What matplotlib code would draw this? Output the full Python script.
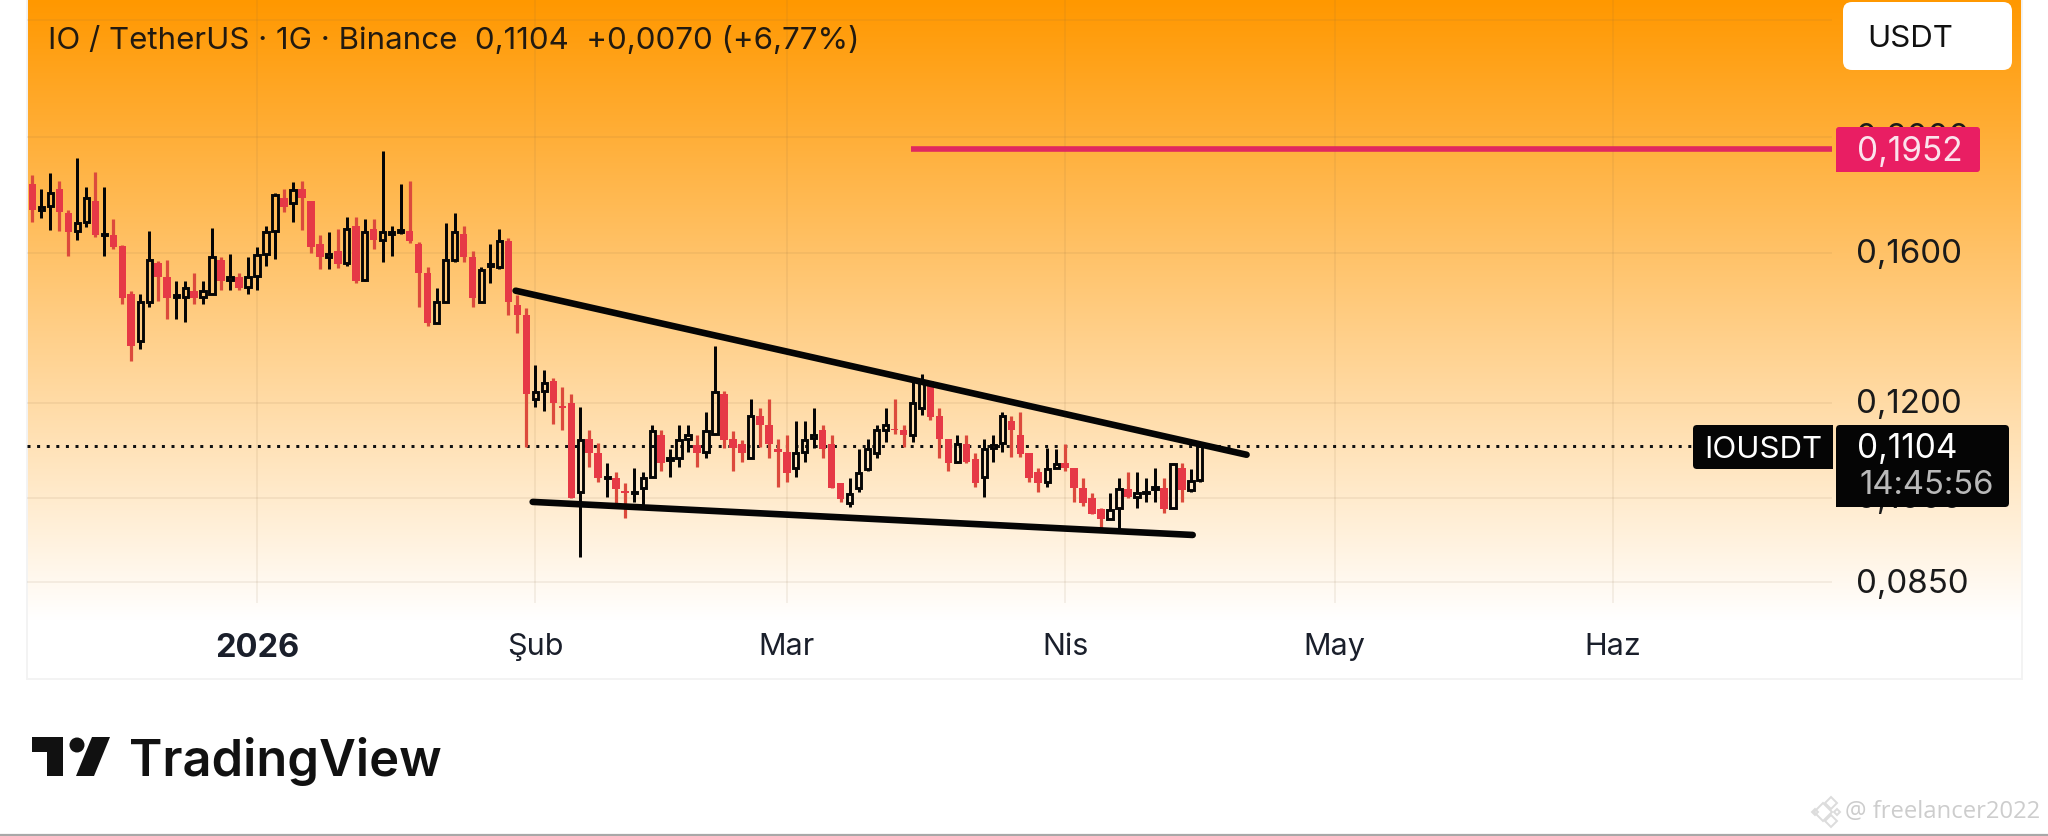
import numpy as np
import matplotlib
matplotlib.use("Agg")
import matplotlib.pyplot as plt
from matplotlib.patches import FancyBboxPatch, Polygon, Circle, Rectangle
from matplotlib.transforms import ScaledTranslation

W, H = 2048, 836
plt.rcParams['font.family'] = ['Inter', 'DejaVu Sans']

# ---- data ----
first_day = -25   # days relative to 1 Jan 2026
opens = [.1827,.1738,.1751,.1808,.1729,.1669,.1697,.1768,.1655,.1656,.1620,.1478,.1350,.1457,.1569,.1527,.1469,.1469,.1487,.1469,
 .1479,.1578,.1519,.1527,.1498,.1531,.1597,.1670,.1777,.1760,.1808,.1768,.1627,.1588,.1607,.1569,.1686,.1519,.1675,.1639,
 .1660,.1667,.1669,.1627,.1539,.1398,.1457,.1578,.1659,.1588,.1457,.1559,.1557,.1638,.1448,.1419,.1209,.1228,.1250,.1193,
 .1199,.1011,.1119,.1089,.1038,.1039,.1012,.1009,.1019,.1040,.1128,.1075,.1079,.1120,.1107,.1091,.1130,.1221,.1119,.1108,
 .1079,.1169,.1150,.1098,.1091,.1058,.1091,.1121,.1138,.1109,.1028,.0990,.1019,.1057,.1089,.1138,.1140,.1139,.1128,.1189,
 .1250,.1169,.1119,.1070,.1109,.1077,.1040,.1100,.1110,.1159,.1128,.1089,.1050,.1030,.1059,.1069,.1058,.1019,.0999,.0978,
 .0960,.0980,.1017,.1001,.1009,.1017,.1019,.0980,.1058,.1015,.1035]
highs = [.1858,.1808,.1867,.1837,.1738,.1919,.1817,.1868,.1817,.1708,.1625,.1486,.1478,.1669,.1576,.1577,.1517,.1517,.1539,.1517,
 .1677,.1588,.1596,.1539,.1588,.1617,.1686,.1796,.1808,.1835,.1837,.1768,.1656,.1667,.1675,.1715,.1715,.1708,.1708,.1947,
 .1686,.1827,.1837,.1635,.1557,.1497,.1696,.1727,.1686,.1607,.1556,.1627,.1675,.1648,.1476,.1439,.1289,.1278,.1258,.1238,
 .1220,.1190,.1138,.1110,.1069,.1050,.1028,.1058,.1050,.1150,.1138,.1098,.1150,.1150,.1128,.1178,.1337,.1228,.1137,.1118,
 .1208,.1189,.1208,.1119,.1128,.1159,.1159,.1189,.1150,.1128,.1028,.1038,.1098,.1119,.1150,.1189,.1208,.1150,.1250,.1268,
 .1250,.1189,.1119,.1128,.1128,.1089,.1119,.1128,.1178,.1169,.1178,.1089,.1058,.1100,.1097,.1109,.1058,.1039,.1009,.0980,
 .1009,.1038,.1050,.1050,.1039,.1058,.1039,.1069,.1069,.1056,.1109]
lows = [.1699,.1710,.1672,.1670,.1591,.1641,.1681,.1651,.1591,.1611,.1451,.1300,.1330,.1441,.1460,.1409,.1409,.1400,.1451,.1451,
 .1479,.1491,.1491,.1491,.1479,.1489,.1559,.1580,.1732,.1699,.1672,.1599,.1551,.1551,.1554,.1561,.1510,.1517,.1611,.1571,
 .1591,.1660,.1630,.1441,.1391,.1398,.1457,.1571,.1571,.1441,.1457,.1510,.1551,.1421,.1372,.1103,.1191,.1181,.1152,.1139,
 .0999,.0892,.1060,.1030,.1001,.0990,.0962,.0991,.0985,.1040,.1052,.1040,.1060,.1091,.1060,.1080,.1128,.1101,.1052,.1071,
 .1079,.1103,.1080,.1020,.1030,.1040,.1071,.1100,.1080,.1019,.0991,.0982,.1012,.1052,.1080,.1112,.1130,.1103,.1112,.1171,
 .1161,.1080,.1052,.1069,.1069,.1020,.1002,.1071,.1092,.1081,.1081,.1030,.1011,.1020,.1058,.1052,.0991,.0984,.0969,.0941,
 .0960,.0941,.0999,.0981,.0991,.0991,.0971,.0980,.0992,.1011,.1030]
closes = [.1738,.1747,.1796,.1730,.1667,.1694,.1777,.1656,.1660,.1617,.1467,.1337,.1457,.1577,.1529,.1467,.1476,.1496,.1467,.1486,
 .1587,.1517,.1527,.1497,.1527,.1595,.1667,.1787,.1747,.1806,.1779,.1617,.1588,.1596,.1567,.1675,.1516,.1667,.1639,.1667,
 .1667,.1671,.1638,.1539,.1398,.1455,.1577,.1667,.1588,.1467,.1549,.1566,.1638,.1457,.1421,.1220,.1226,.1247,.1199,.1189,
 .0999,.1117,.1089,.1038,.1040,.1017,.1009,.1012,.1038,.1137,.1069,.1079,.1118,.1127,.1089,.1137,.1226,.1118,.1100,.1089,
 .1169,.1150,.1109,.1091,.1048,.1089,.1118,.1128,.1098,.1019,.0998,.1008,.1048,.1098,.1138,.1149,.1138,.1128,.1199,.1250,
 .1167,.1119,.1069,.1109,.1070,.1028,.1097,.1107,.1169,.1138,.1088,.1039,.1028,.1057,.1067,.1058,.1019,.0990,.0969,.0960,
 .0977,.1017,.1001,.1009,.1012,.1020,.0979,.1067,.1015,.1032,.1104]

price_ticks = [0.25, 0.20, 0.16, 0.12, 0.10, 0.085]
price_labels = ['0,2500', '0,2000', '0,1600', '0,1200', '0,1000', '0,0850']
month_days = [0, 31, 59, 90, 120, 151]
month_labels = ['2026', 'Şub', 'Mar', 'Nis', 'May', 'Haz']

last_price = 0.1104
target_price = 0.1952
target_start_day = 72.8
upper_days, upper_prices = [28.8, 110.2], [0.1488, 0.1086]
lower_days, lower_prices = [30.7, 104.2], [0.0992, 0.0931]

# ---- layout helpers ----
fig = plt.figure(figsize=(W/100, H/100), dpi=100, facecolor='white')
def rect(x0, y0, x1, y1):
    return [x0/W, 1-y1/H, (x1-x0)/W, (y1-y0)/H]
px = 0.72  # points per pixel

# panel gradient
PANEL = (27, 0, 2022, 679)
bg = fig.add_axes(rect(*PANEL), zorder=0)
t = np.clip(np.linspace(0, 679, 680)/620, 0, 1)[:, None, None]
top = np.array([255, 152, 0])/255
grad = top*(1-t) + np.ones(3)*t
bg.imshow(grad, aspect='auto', extent=(0, 1, 0, 1))
bg.set_xticks([]); bg.set_yticks([])
for s in bg.spines.values():
    s.set_color('#F3F3F3'); s.set_linewidth(1.4)
bg.spines['top'].set_visible(False)

# ---- main chart ----
ax = fig.add_axes(rect(27, 0, 1832, 603), zorder=1)
ax.patch.set_alpha(0)
ax.set_yscale('log')
ax.set_xlim(-25.61, 175.39)
ax.set_ylim(0.0817, 0.2600)
for s in ax.spines.values():
    s.set_visible(False)
ax.yaxis.tick_right()
ax.set_yticks(price_ticks)
ax.set_yticklabels(price_labels)
ax.minorticks_off()
ax.set_xticks(month_days)
ax.set_xticklabels(month_labels)
ax.tick_params(axis='both', length=0)
ax.tick_params(axis='y', pad=24*px, labelsize=23.8, labelcolor='#1a1a1a')
ax.tick_params(axis='x', pad=30*px, labelsize=22, labelcolor='#1a1f2b')
ax.get_xticklabels()[0].set_fontweight('bold')
ax.get_xticklabels()[0].set_fontsize(23.5)
shift = ScaledTranslation(0, 1.5/100, fig.dpi_scale_trans)
for lab in ax.get_yticklabels():
    lab.set_transform(lab.get_transform() + shift)
ax.grid(True, color='#8a6a40', alpha=0.11, lw=1.6*px)
ax.set_axisbelow(True)

days = first_day + np.arange(len(opens))
o, h, l, c = map(np.array, (opens, highs, lows, closes))
up = c >= o
RED, REDW = '#E63946', '#DC4A3C'

ax.axhline(last_price, color='#111111', lw=3.0*px, ls=(0, (1.0, 2.2)), zorder=2)

ax.vlines(days[~up], l[~up], h[~up], color=REDW, lw=3.2*px, zorder=3)
ax.bar(days[~up], np.maximum(o-c, 0.0004)[~up], bottom=c[~up], width=0.84, color=RED, lw=0, zorder=4)

top_b, bot_b = np.maximum(o, c), np.minimum(o, c)
ax.vlines(days[up], top_b[up], h[up], color='#050505', lw=3.0*px, zorder=3)
ax.vlines(days[up], l[up], bot_b[up], color='#050505', lw=3.0*px, zorder=3)
ax.bar(days[up], (top_b-bot_b)[up], bottom=bot_b[up], width=0.58, facecolor='none',
       edgecolor='#050505', lw=2.9*px, zorder=4)

ax.plot(upper_days, upper_prices, color='#050505', lw=6.6*px, solid_capstyle='round', zorder=6)
ax.plot(lower_days, lower_prices, color='#050505', lw=6.6*px, solid_capstyle='round', zorder=6)
ax.hlines(target_price, target_start_day, 175.39, color='#E0285F', lw=5.6*px, zorder=5)

# ---- overlay (tags, header, logo) in pixel coordinates ----
ov = fig.add_axes([0, 0, 1, 1], zorder=2)
ov.set_xlim(0, W); ov.set_ylim(H, 0); ov.axis('off')

def box(x0, y0, x1, y1, color, r=5):
    ov.add_patch(FancyBboxPatch((x0+r, y0+r), x1-x0-2*r, y1-y0-2*r,
                 boxstyle=f'round,pad={r},rounding_size={r}', fc=color, ec='none'))

box(1843, 2, 2012, 70, '#FFFFFF', 9)
ov.text(1867, 39, 'USDT', fontsize=22.5, color='#111111', va='center', ha='left')

box(1836, 127, 1980, 172, '#E91E63', 3)
ov.add_patch(Rectangle((1836, 150), 10, 22, fc='#E91E63', ec='none'))
ov.text(1857, 152, '0,1952', fontsize=24, color='#FBE3EC', va='center', ha='left')

box(1693, 425, 1833, 469, '#050505', 4)
ov.add_patch(Rectangle((1820, 425), 13, 44, fc='#050505', ec='none'))
ov.text(1704, 450, 'IOUSDT', fontsize=22.5, color='#FFFFFF', va='center', ha='left')

box(1836, 425, 2009, 507, '#050505', 4)
ov.add_patch(Rectangle((1836, 490), 12, 17, fc='#050505', ec='none'))
ov.text(1857, 449, '0,1104', fontsize=24, color='#FFFFFF', va='center', ha='left')
ov.text(1859, 486, '14:45:56', fontsize=23.6, color='#B9B9B9', va='center', ha='left')

ov.text(48, 41, 'IO / TetherUS · 1G · Binance  0,1104  +0,0070 (+6,77%)', fontsize=22.5,
        color='#221a10', va='center', ha='left')

# TradingView logo
ov.add_patch(Polygon([(32, 737), (63, 737), (63, 776), (47, 776), (47, 752), (32, 752)], fc='#111111', ec='none'))
ov.add_patch(Circle((77, 745), 7.5, fc='#111111', ec='none'))
ov.add_patch(Polygon([(110, 737), (94, 776), (76, 776), (92, 737)], fc='#111111', ec='none'))
ov.text(129, 776, 'TradingView', fontsize=36.5, fontweight='semibold', color='#111111', va='baseline', ha='left')

# watermark
for cx, cy, s in [(1823, 812, 9), (1831, 803, 6), (1831, 821, 6), (1815, 812, 3), (1837, 812, 3)]:
    ov.add_patch(Polygon([(cx-s, cy), (cx, cy-s), (cx+s, cy), (cx, cy+s)], fc='none', ec='#DCDCDC', lw=1.4))
ov.text(1845, 812, '@ freelancer2022', fontsize=17.2, color='#CDCDCD', va='center', ha='left', family='Open Sans')

ov.plot([0, W], [835.2, 835.2], color='#A8A8A8', lw=1.6)

fig.savefig('out.png', dpi=100)
